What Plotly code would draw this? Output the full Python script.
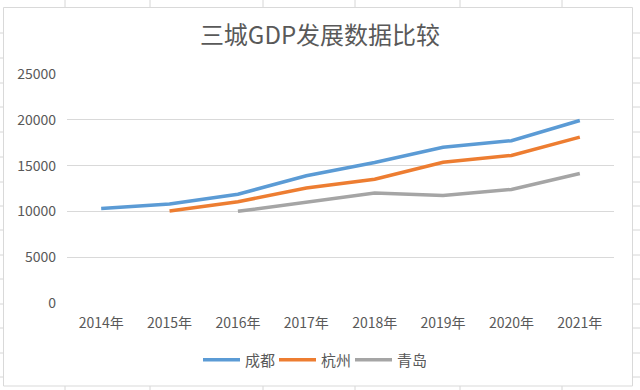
import plotly.graph_objects as go

years = ["2014年", "2015年", "2016年", "2017年", "2018年", "2019年", "2020年", "2021年"]
chengdu = [10320, 10800, 11870, 13890, 15340, 17010, 17720, 19920]
hangzhou = [None, 10050, 11050, 12560, 13510, 15370, 16110, 18110]
qingdao = [None, None, 10010, 11040, 12000, 11740, 12400, 14140]
series_names = ["成都", "杭州", "青岛"]
series_colors = ["#5B9BD5", "#ED7D31", "#A5A5A5"]
y_ticks = [0, 5000, 10000, 15000, 20000, 25000]

W, H = 640, 390
L, R, T, B = 67, 26, 74, 87
PW, PH = W - L - R, H - T - B
FONT = "Noto Sans CJK SC, Noto Sans, sans-serif"
TXT = "#595959"


def px(x):
    return (x - L) / PW


def py(y):
    return (H - B - y) / PH


fig = go.Figure()
for name, vals, col in zip(series_names, [chengdu, hangzhou, qingdao], series_colors):
    fig.add_trace(go.Scatter(x=years, y=vals, name=name, mode="lines",
                             line=dict(color=col, width=3.5), connectgaps=False))

shapes = []
sheet_line = "#D6D6D6"
for cx in [65, 150, 263, 355, 460, 562]:
    shapes.append(dict(type="line", xref="paper", yref="paper", layer="below",
                       x0=px(cx), x1=px(cx), y0=py(0), y1=py(H),
                       line=dict(color=sheet_line, width=1)))
for ry in [33, 58, 83, 107, 132, 157, 182, 206, 230, 255, 279, 304, 328, 353, 377]:
    shapes.append(dict(type="line", xref="paper", yref="paper", layer="below",
                       x0=px(0), x1=px(W), y0=py(ry), y1=py(ry),
                       line=dict(color=sheet_line, width=1)))
shapes.append(dict(type="rect", xref="paper", yref="paper", layer="below",
                   x0=px(3.5), x1=px(632.5), y0=py(7.5), y1=py(386),
                   fillcolor="white", line=dict(color="#D9D9D9", width=1)))

fig.update_layout(
    width=W, height=H,
    margin=dict(l=L, r=R, t=T, b=B),
    paper_bgcolor="white", plot_bgcolor="rgba(0,0,0,0)",
    font=dict(family=FONT, color=TXT, size=14),
    title=dict(text="三城GDP发展数据比较", x=0.5, xanchor="center", xref="container",
               y=1 - 36 / H, yanchor="middle", yref="container",
               font=dict(family=FONT, size=24, color=TXT)),
    shapes=shapes,
    showlegend=True,
    legend=dict(orientation="h", x=(320 - 8) / W, xanchor="center", xref="container",
                y=1 - 360 / H, yanchor="middle", yref="container",
                font=dict(family=FONT, size=15, color=TXT),
                itemwidth=37, entrywidth=24, entrywidthmode="pixels",
                bgcolor="rgba(0,0,0,0)"),
)
fig.update_xaxes(type="category", range=[-0.5, 7.5], showgrid=False, showline=False,
                 zeroline=False, ticks="", ticklabelstandoff=10,
                 tickfont=dict(family=FONT, size=14, color=TXT))
fig.update_yaxes(range=[0, 25000], tickvals=y_ticks, showgrid=True, gridcolor="#D9D9D9",
                 gridwidth=1, zeroline=False, showline=False, ticks="",
                 ticklabelstandoff=10, tickformat="d",
                 tickfont=dict(family=FONT, size=14, color=TXT))

fig.write_html("out.html", config={"displayModeBar": False},
               post_script="document.body.style.margin='0';")
